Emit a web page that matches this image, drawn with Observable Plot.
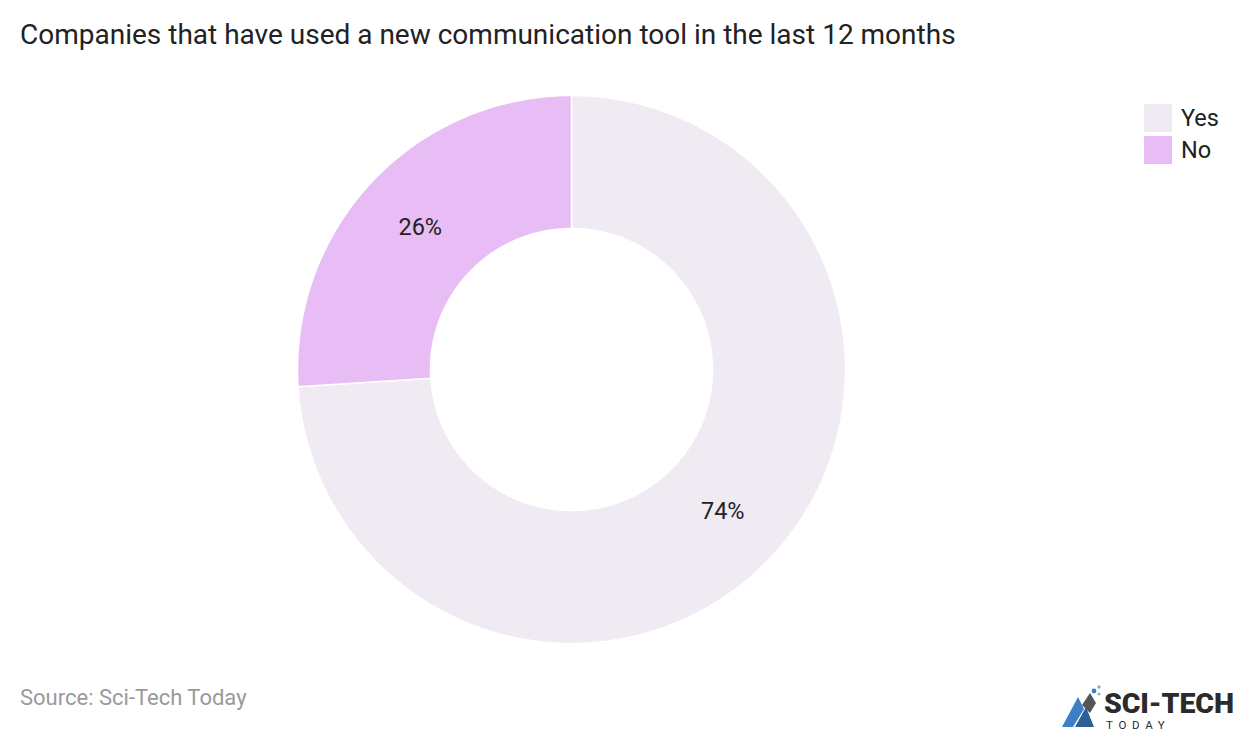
<!DOCTYPE html>
<html>
<head>
<meta charset="utf-8">
<script src="https://cdn.jsdelivr.net/npm/d3@7"></script>
<script src="https://cdn.jsdelivr.net/npm/@observablehq/plot@0.6"></script>
<style>
  html, body { margin: 0; padding: 0; background: #fff; }
  body { width: 1240px; height: 732px; position: relative; overflow: hidden; font-family: Roboto, "Noto Sans", sans-serif; }
  #title { position: absolute; left: 20px; top: 18px; font-size: 28px; color: #222; white-space: nowrap; }
  #chart { position: absolute; left: 0; top: 75px; }
  #legend { position: absolute; left: 1144px; top: 102px; font-size: 23.5px; color: #222; }
  .sw { display: flex; align-items: center; height: 32px; }
  .sw span.box { display: inline-block; width: 28px; height: 28px; margin-right: 9px; }
  #source { position: absolute; left: 20px; top: 685px; font-size: 22px; color: #9a9a9a; }
  #logo { position: absolute; left: 1058px; top: 682px; }
</style>
</head>
<body>
<div id="title">Companies that have used a new communication tool in the last 12 months</div>
<div id="chart"></div>
<div id="legend"></div>
<div id="source">Source: Sci-Tech Today</div>
<div id="logo">
  <svg width="182" height="49" viewBox="0 0 182 49">
    <polygon points="4,45 20,15 26,27 15,45" fill="#3b7fc4"/>
    <polygon points="17,45 28,25 36,45" fill="#2c5f95"/>
    <polygon points="24,23 32,11 38,21 32,31" fill="#555"/>
    <circle cx="36" cy="9" r="2.4" fill="#3b7fc4"/>
    <circle cx="41" cy="5" r="1.7" fill="#7fa9d6"/>
    <circle cx="41" cy="12" r="1.5" fill="#aaa"/>
    <text x="46" y="30.5" font-family="Roboto, sans-serif" font-weight="900" font-size="28.5" fill="#2b2b2b" letter-spacing="-0.1">SCI-TECH</text>
    <text x="48" y="46.5" font-family="Roboto, sans-serif" font-size="11.5" fill="#2b2b2b" letter-spacing="5.7">TODAY</text>
  </svg>
</div>
<script>
// ---- data ----
const categories = ["Yes", "No"];
const values = [74, 26];
const colors = ["#f0eaf2", "#e8bdf5"];

// ---- geometry (derived from data) ----
const W = 1240, H = 590;
const cx = 571, cy = 294;          // centre in svg pixels
const outerR = 274, innerR = 141;

const pie = d3.pie().sort(null).value(d => d.value);
const arcs = pie(categories.map((c, i) => ({category: c, value: values[i]})));

const pts = [];
arcs.forEach(a => {
  const n = Math.max(8, Math.ceil((a.endAngle - a.startAngle) / 0.01));
  for (let k = 0; k <= n; k++) {
    const t = a.startAngle + (a.endAngle - a.startAngle) * k / n;
    pts.push({category: a.data.category, x: outerR * Math.sin(t), y: outerR * Math.cos(t)});
  }
  for (let k = n; k >= 0; k--) {
    const t = a.startAngle + (a.endAngle - a.startAngle) * k / n;
    pts.push({category: a.data.category, x: innerR * Math.sin(t), y: innerR * Math.cos(t)});
  }
});
const labels = arcs.map(a => {
  const m = (a.startAngle + a.endAngle) / 2, r = (outerR + innerR) / 2;
  return {x: r * Math.sin(m), y: r * Math.cos(m), text: a.data.value + "%"};
});

const plot = Plot.plot({
  width: W, height: H,
  margin: 0,
  style: {fontFamily: "Roboto, sans-serif", background: "transparent"},
  x: {domain: [-cx, W - cx], axis: null},
  y: {domain: [-(H - cy), cy], axis: null},
  color: {domain: categories, range: colors},
  marks: [
    Plot.line(pts, {x: "x", y: "y", z: "category", fill: "category", stroke: "white", strokeWidth: 1.5, curve: "linear-closed"}),
    Plot.text(labels, {x: "x", y: "y", text: "text", fontSize: 23.5, fill: "#222"})
  ]
});
document.getElementById("chart").appendChild(plot);

const legend = document.getElementById("legend");
categories.forEach((c, i) => {
  const row = document.createElement("div");
  row.className = "sw";
  row.innerHTML = `<span class="box" style="background:${plot.scale("color").apply(c)}"></span><span>${c}</span>`;
  legend.appendChild(row);
});
</script>
</body>
</html>
